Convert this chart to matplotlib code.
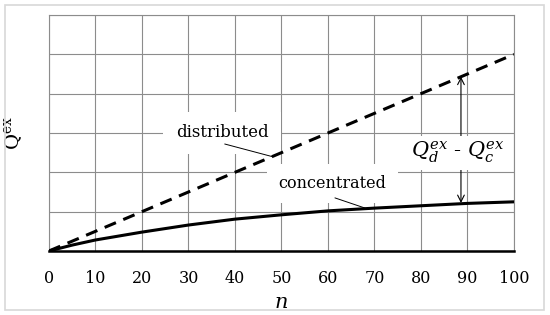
import numpy as np
import matplotlib
matplotlib.use("Agg")
import matplotlib.pyplot as plt
from matplotlib.patches import Rectangle

# ---- data ----
n_vals = [0, 5, 10, 20, 30, 40, 50, 60, 70, 80, 90, 100]
q_distributed = [0, 0.25, 0.5, 1.0, 1.5, 2.0, 2.5, 3.0, 3.5, 4.0, 4.5, 5.0]
q_concentrated = [0, 0.15, 0.28, 0.48, 0.66, 0.81, 0.92, 1.02, 1.09, 1.15, 1.21, 1.25]
x_ticks = [0, 10, 20, 30, 40, 50, 60, 70, 80, 90, 100]

plt.rcParams['mathtext.fontset'] = 'dejavuserif'

fig = plt.figure(figsize=(5.5, 3.15), dpi=100)
ax = fig.add_axes([0.089, 0.2032, 0.8455, 0.7492])

# light frame around the whole figure
fig.patches.append(Rectangle((0.009, 0.016), 0.98, 0.968, transform=fig.transFigure,
                             fill=False, edgecolor='#d8d8d8', linewidth=1.2))

ax.plot(n_vals, q_distributed, color='black', lw=2.2, ls=(0, (4, 2.6)), zorder=4)
ax.plot(n_vals, q_concentrated, color='black', lw=2.2, zorder=4)

ax.set_xlim(0, 100)
ax.set_ylim(0, 6)
ax.set_xticks(x_ticks)
ax.set_yticks(range(0, 7))
ax.set_yticklabels([])
ax.tick_params(length=0, pad=14)
for lbl in ax.get_xticklabels():
    lbl.set_fontfamily('DejaVu Serif')
    lbl.set_fontsize(11.5)
ax.grid(True, color='#8c8c8c', lw=0.8)
ax.set_axisbelow(True)
for s in ['top', 'right', 'left']:
    ax.spines[s].set_color('#8c8c8c')
    ax.spines[s].set_linewidth(0.8)
ax.spines['bottom'].set_color('black')
ax.spines['bottom'].set_linewidth(1.8)

ax.set_xlabel('$n$', fontsize=15)
ax.xaxis.set_label_coords(0.5, -0.175)
ax.set_ylabel(r'$\mathrm{Q}^{\mathrm{ex}}$', fontsize=14)
ax.yaxis.set_label_coords(-0.052, 0.5)

# labels with leader lines
ax.text(37.2, 3.0, 'distributed', ha='center', va='center', fontsize=12,
        family='DejaVu Serif', zorder=3,
        bbox=dict(facecolor='white', edgecolor='none', pad=9))
ax.annotate('', xy=(48, 2.4), xytext=(37.8, 2.72), zorder=3.5,
            arrowprops=dict(arrowstyle='-', color='black', lw=0.7,
                            shrinkA=0, shrinkB=0))
ax.text(61, 1.72, 'concentrated', ha='center', va='center', fontsize=11.5,
        family='DejaVu Serif', zorder=3,
        bbox=dict(facecolor='white', edgecolor='none', pad=8))
ax.annotate('', xy=(68, 1.09), xytext=(61.5, 1.35), zorder=3.5,
            arrowprops=dict(arrowstyle='-', color='black', lw=0.7,
                            shrinkA=0, shrinkB=0))

# difference arrow
ax.annotate('', xy=(88.6, 4.43), xytext=(88.6, 1.22), zorder=2.8,
            arrowprops=dict(arrowstyle='<->', color='black', lw=0.8,
                            mutation_scale=12, shrinkA=0, shrinkB=0))
ax.text(88, 2.5, r'$Q_d^{ex}$ - $Q_c^{ex}$', ha='center', va='center',
        fontsize=15, family='DejaVu Serif', zorder=3,
        bbox=dict(facecolor='white', edgecolor='none', pad=3))

fig.savefig('out.png', dpi=100)
